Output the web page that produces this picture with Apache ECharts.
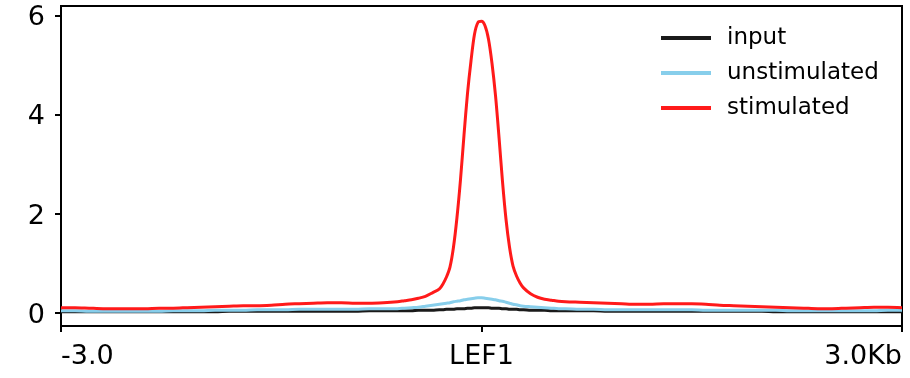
<!DOCTYPE html>
<html>
<head>
<meta charset="utf-8">
<script src="https://cdn.jsdelivr.net/npm/echarts@6/dist/echarts.min.js"></script>
<style>html,body{margin:0;padding:0;background:#fff;}#c{width:910px;height:378px;}</style>
</head>
<body>
<div id="c"></div>
<script>
// positions in bp relative to LEF1 center
const positions = [-3000,-2900,-2800,-2700,-2600,-2500,-2400,-2300,-2200,-2100,-2000,-1900,-1800,-1700,-1600,-1500,-1400,-1300,-1200,-1100,-1000,-900,-800,-700,
  -600,-550,-500,-450,-400,-350,-300,-275,-250,-225,-200,-175,-150,-125,-100,-75,-50,-25,0,25,50,75,100,125,150,175,200,225,250,275,300,350,400,450,500,550,600,
  700,800,900,1000,1100,1200,1300,1400,1500,1600,1700,1800,1900,2000,2100,2200,2300,2400,2500,2600,2700,2800,2900,3000];
const stimulated = [0.10,0.10,0.09,0.08,0.08,0.08,0.08,0.09,0.09,0.10,0.11,0.12,0.13,0.14,0.14,0.15,0.17,0.18,0.19,0.20,0.20,0.19,0.19,0.20,
  0.22,0.24,0.26,0.29,0.33,0.40,0.48,0.58,0.72,0.92,1.32,1.92,2.68,3.58,4.42,5.08,5.62,5.86,5.88,5.79,5.52,5.03,4.38,3.54,2.64,1.88,1.32,0.94,0.74,0.60,0.50,0.38,0.31,0.27,0.25,0.23,0.22,
  0.21,0.20,0.19,0.18,0.17,0.17,0.18,0.18,0.18,0.17,0.15,0.14,0.13,0.12,0.11,0.10,0.09,0.08,0.08,0.09,0.10,0.11,0.11,0.10];
const unstimulated = [0.04,0.04,0.03,0.03,0.03,0.03,0.03,0.03,0.04,0.04,0.04,0.05,0.05,0.05,0.06,0.06,0.06,0.07,0.07,0.07,0.07,0.07,0.08,0.08,
  0.08,0.09,0.10,0.11,0.13,0.15,0.17,0.18,0.19,0.20,0.22,0.23,0.24,0.26,0.27,0.28,0.29,0.30,0.30,0.29,0.28,0.27,0.26,0.24,0.23,0.21,0.19,0.17,0.16,0.14,0.13,0.12,0.11,0.10,0.09,0.08,0.08,
  0.07,0.07,0.06,0.06,0.06,0.06,0.06,0.06,0.06,0.05,0.05,0.05,0.05,0.05,0.05,0.04,0.04,0.04,0.04,0.04,0.04,0.04,0.05,0.05];
const input = [0.02,0.02,0.02,0.02,0.02,0.02,0.02,0.02,0.02,0.02,0.02,0.02,0.03,0.03,0.03,0.03,0.03,0.03,0.03,0.03,0.03,0.03,0.04,0.04,
  0.04,0.04,0.04,0.05,0.05,0.05,0.06,0.06,0.07,0.07,0.07,0.08,0.08,0.08,0.09,0.09,0.10,0.10,0.10,0.10,0.10,0.09,0.09,0.09,0.08,0.08,0.07,0.07,0.07,0.06,0.06,0.05,0.05,0.05,0.04,0.04,0.04,
  0.04,0.04,0.03,0.03,0.03,0.03,0.03,0.03,0.03,0.03,0.03,0.03,0.03,0.03,0.02,0.02,0.02,0.02,0.02,0.02,0.02,0.02,0.02,0.02];
const seriesNames = ['input','unstimulated','stimulated'];
const xTickLabels = {'-3000':'-3.0','0':'LEF1','3000':'3.0Kb'};
const yTicks = [0,2,4,6];

const colors = ['#1a1a1a','#87ceeb','#ff1a1a'];
const allData = [input, unstimulated, stimulated];
const chart = echarts.init(document.getElementById('c'), null, {renderer:'canvas'});
const font = 'DejaVu Sans';
chart.setOption({
  animation:false,
  backgroundColor:'#fff',
  grid:{left:61,right:8,top:6,bottom:52,show:true,borderColor:'#000',borderWidth:2},
  legend:{
    orient:'vertical', left:656, top:18, icon:'rect', itemWidth:50, itemHeight:4, itemGap:5,
    data:seriesNames,
    textStyle:{fontFamily:font,fontSize:23,color:'#000',lineHeight:30,padding:[0,0,0,11]}
  },
  xAxis:{
    type:'value', min:-3000, max:3000, interval:3000,
    axisLine:{show:true,onZero:false,lineStyle:{color:'#000',width:2}},
    axisTick:{show:true,length:6,lineStyle:{color:'#000',width:2}},
    splitLine:{show:false},
    axisLabel:{fontFamily:font,fontSize:27,color:'#000',margin:17,
      alignMinLabel:'left',alignMaxLabel:'right',
      formatter:v=>xTickLabels[String(v)]||''}
  },
  yAxis:{
    type:'value', min:-0.27, max:6.19,
    axisLine:{show:true,onZero:false,lineStyle:{color:'#000',width:2}},
    axisTick:{show:true,length:6,lineStyle:{color:'#000',width:2},customValues:yTicks},
    splitLine:{show:false},
    axisLabel:{fontFamily:font,fontSize:27,color:'#000',margin:16,verticalAlign:'top',lineHeight:6,customValues:yTicks,formatter:v=>String(v)}
  },
  series: seriesNames.map((n,i)=>({
    name:n, type:'line', showSymbol:false, symbol:'none', smooth:0.3,
    lineStyle:{color:colors[i],width:3}, itemStyle:{color:colors[i]},
    data: positions.map((p,j)=>[p, allData[i][j]]),
    z: 2+i
  }))
});
</script>
</body>
</html>
